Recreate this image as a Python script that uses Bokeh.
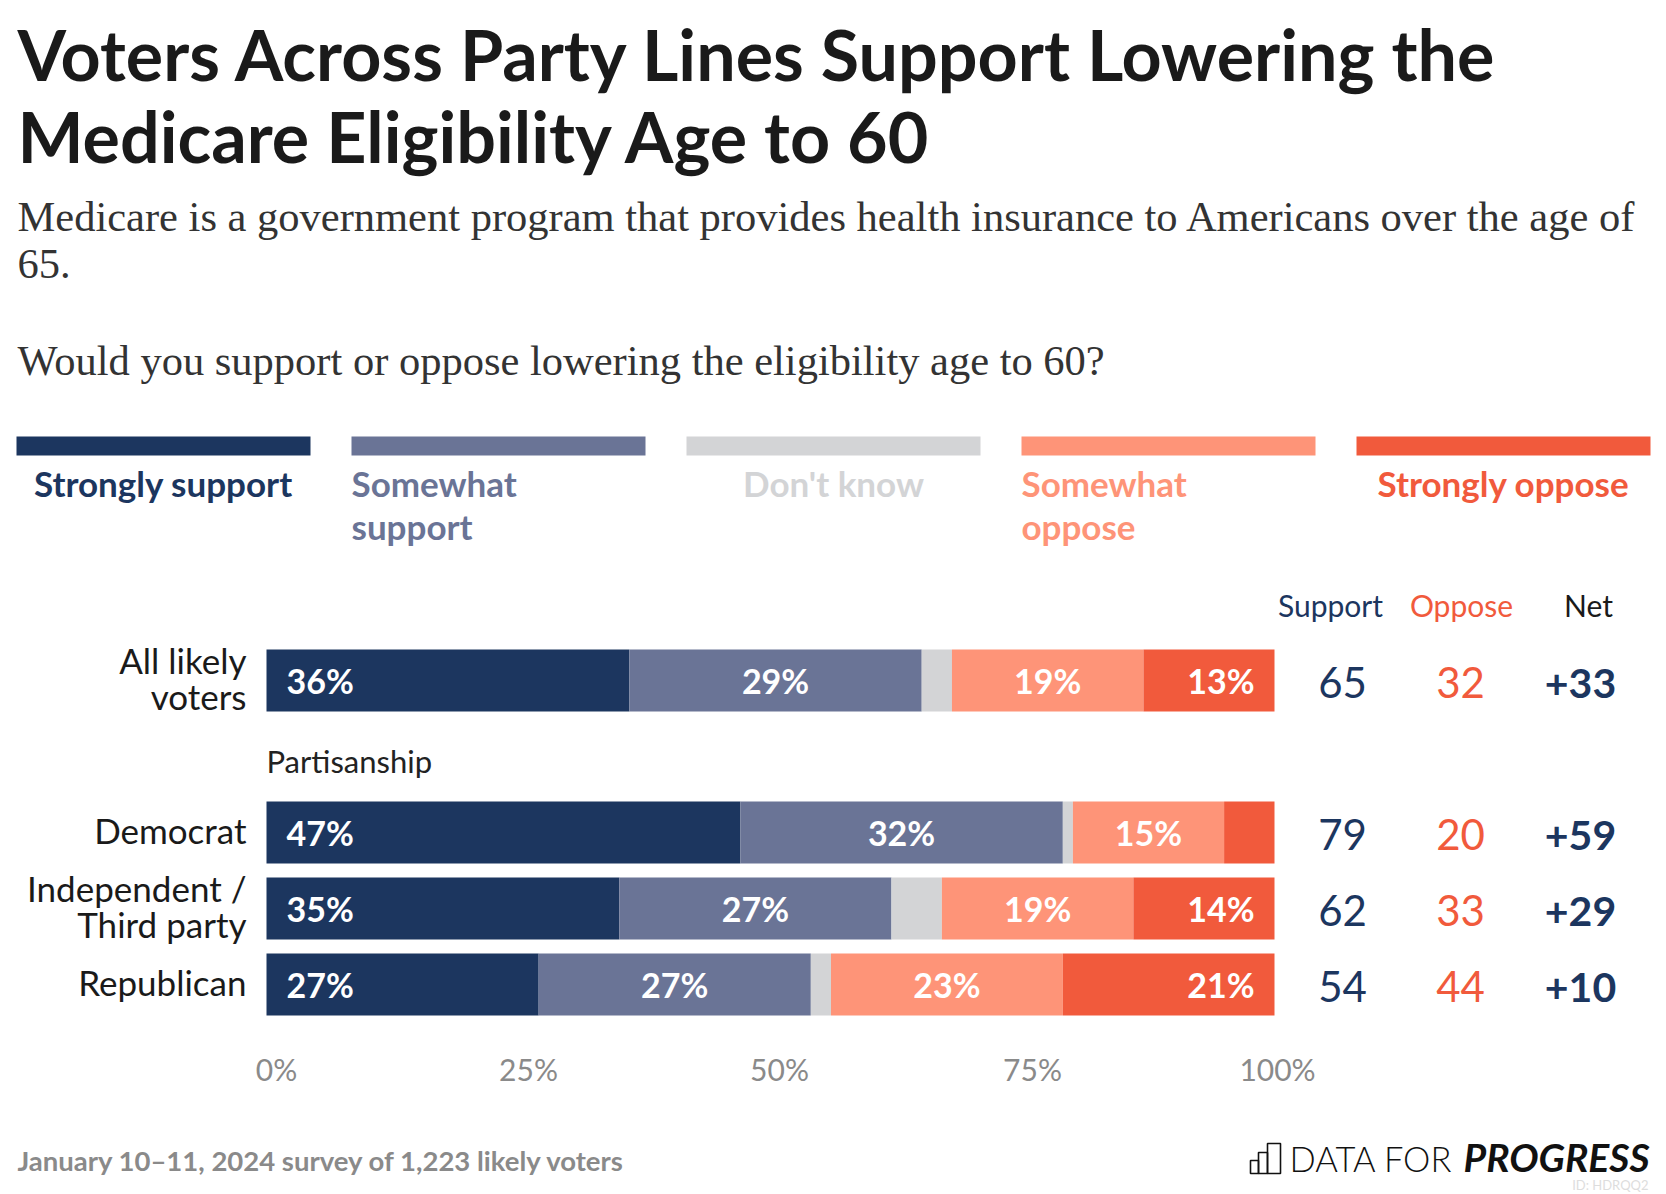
from bokeh.plotting import figure
from bokeh.layouts import column
from bokeh.models import ColumnDataSource, Range1d, FactorRange
from bokeh.core.properties import value
from bokeh.embed import file_html
from bokeh.resources import INLINE

# ---- data -------------------------------------------------------------
categories = ["Strongly support", "Somewhat support", "Don't know",
              "Somewhat oppose", "Strongly oppose"]
legend_lines = [["Strongly support"], ["Somewhat", "support"], ["Don't know"],
                ["Somewhat", "oppose"], ["Strongly oppose"]]
colors = ["#1c365f", "#6a7496", "#d3d4d6", "#fe9478", "#f15a3c"]

groups = ["All likely voters", "Democrat", "Independent / Third party", "Republican"]
group_lines = [["All likely", "voters"], ["Democrat"],
               ["Independent /", "Third party"], ["Republican"]]
section_label = "Partisanship"

strongly_support = [36, 47, 35, 27]
somewhat_support = [29, 32, 27, 27]
dont_know = [3, 1, 5, 2]
somewhat_oppose = [19, 15, 19, 23]
strongly_oppose = [13, 5, 14, 21]

support_total = [65, 79, 62, 54]
oppose_total = [32, 20, 33, 44]

tick_values = [0, 25, 50, 75, 100]
tick_labels = ["0%", "25%", "50%", "75%", "100%"]

title_lines = ["Voters Across Party Lines Support Lowering the",
               "Medicare Eligibility Age to 60"]
subtitle_lines = ["Medicare is a government program that provides health insurance to Americans over the age of",
                  "65.",
                  "Would you support or oppose lowering the eligibility age to 60?"]
source_note = "January 10\u201311, 2024 survey of 1,223 likely voters"

# ---- styling ----------------------------------------------------------
SANS = value("Lato")
SERIF = value("Liberation Serif")
INK = "#1a1a1a"
W = 1666
HEADER_H, MAIN_H, FOOTER_H = 567, 530, 97
ROW_PX = 76
BAR_LEFT_PX, BAR_RIGHT_PX = 266, 1274


def lift(size):
    """Shift that puts an alphabetic baseline where it is asked for."""
    return -0.4 * size


def bare(fig):
    fig.axis.visible = False
    fig.xgrid.visible = False
    fig.ygrid.visible = False
    fig.outline_line_color = None
    fig.background_fill_color = "white"
    fig.border_fill_color = "white"
    return fig


# ---- header: title, question, legend ---------------------------------
hdr = bare(figure(width=W, height=HEADER_H, x_range=Range1d(0, W),
                  y_range=Range1d(HEADER_H, 0), output_backend="svg",
                  toolbar_location=None, min_border=0))

fs = 70
hdr.text(x=[17, 17], y=[b + lift(fs) for b in (81, 163)], text=title_lines,
         text_font=SANS, text_font_style="bold", text_font_size=f"{fs}px",
         text_color=INK, text_baseline="alphabetic", text_align="left")
fs = 42.5
hdr.text(x=[17, 17, 17], y=[b + lift(fs) for b in (233, 280, 377)],
         text=subtitle_lines, text_font=SERIF, text_font_size=f"{fs}px",
         text_color="#333333", text_baseline="alphabetic", text_align="left")

slot, swatch_w, legend_x0 = 335, 294, 16
hdr.quad(left=[legend_x0 + i * slot for i in range(len(categories))],
         right=[legend_x0 + i * slot + swatch_w for i in range(len(categories))],
         top=436, bottom=455, fill_color=colors, line_color=None)
fs = 35
for i, lines in enumerate(legend_lines):
    left = legend_x0 + i * slot
    if len(lines) == 1:
        xs, align = [left + swatch_w / 2], "center"
    else:
        xs, align = [left] * len(lines), "left"
    hdr.text(x=xs, y=[496 + 43 * k + lift(fs) for k in range(len(lines))],
             text=lines, text_font=SANS, text_font_style="bold",
             text_font_size=f"{fs}px", text_color=colors[i],
             text_baseline="alphabetic", text_align=align)

# ---- main stacked bar chart ------------------------------------------
px_per_pct = (BAR_RIGHT_PX - BAR_LEFT_PX) / 100.0
x_range = Range1d(-BAR_LEFT_PX / px_per_pct, (W - BAR_LEFT_PX) / px_per_pct)
y_factors = [groups[3], groups[2], groups[1], section_label, groups[0]]
pad = (MAIN_H - ROW_PX * len(y_factors)) / (ROW_PX * len(y_factors))
y_range = FactorRange(factors=y_factors, range_padding=pad, range_padding_units="percent")

main = bare(figure(width=W, height=MAIN_H, x_range=x_range, y_range=y_range,
                   output_backend="svg", toolbar_location=None, min_border=0))

series = [strongly_support, somewhat_support, dont_know, somewhat_oppose, strongly_oppose]
src = ColumnDataSource({"group": groups, **{c: s for c, s in zip(categories, series)}})
main.hbar_stack(categories, y="group", height=62 / ROW_PX, color=colors,
                line_color=None, source=src)

# segment labels
lab = {"left": ([], [], []), "center": ([], [], []), "right": ([], [], [])}
for g, grp in enumerate(groups):
    cum = 0
    for c, s in enumerate(series):
        v = s[g]
        if c != 2 and v >= 10:
            if c == 0:
                key, x = "left", cum
            elif c == len(series) - 1:
                key, x = "right", cum + v
            else:
                key, x = "center", cum + v / 2
            lab[key][0].append(x)
            lab[key][1].append(grp)
            lab[key][2].append(f"{v}%")
        cum += v
offsets = {"left": 20, "center": 0, "right": -20}
fs = 34
for key, (xs, ys, ts) in lab.items():
    main.text(x=xs, y=ys, text=ts, x_offset=offsets[key], y_offset=14 + lift(fs),
              text_font=SANS, text_font_style="bold", text_font_size=f"{fs}px",
              text_color="white", text_align=key, text_baseline="alphabetic")

# row labels
fs = 35
for grp, lines in zip(groups, group_lines):
    n = len(lines)
    main.text(x=[0] * n, y=[grp] * n, text=lines, x_offset=-20,
              y_offset=[11 + (k - (n - 1) / 2) * 36 + lift(fs) for k in range(n)],
              text_font=SANS, text_font_size=f"{fs}px", text_color=INK,
              text_align="right", text_baseline="alphabetic")
fs = 31
main.text(x=[0], y=[section_label], text=[section_label], y_offset=17 + lift(fs),
          text_font=SANS, text_font_size=f"{fs}px", text_color="#222222",
          text_align="left", text_baseline="alphabetic")

# summary columns
net = [s - o for s, o in zip(support_total, oppose_total)]
fs = 30
main.text(x=[100] * 3, y=[groups[0]] * 3, text=["Support", "Oppose", "Net"],
          x_offset=[56, 187, 314], y_offset=-64 + lift(fs),
          text_color=[colors[0], colors[4], INK], text_font=SANS,
          text_font_size=f"{fs}px", text_align="center", text_baseline="alphabetic")
fs = 42
main.text(x=[100] * len(groups), y=groups, text=[str(v) for v in support_total],
          x_offset=68, y_offset=19 + lift(fs), text_color=colors[0], text_font=SANS,
          text_font_size=f"{fs}px", text_align="center", text_baseline="alphabetic")
main.text(x=[100] * len(groups), y=groups, text=[str(v) for v in oppose_total],
          x_offset=186, y_offset=19 + lift(fs), text_color=colors[4], text_font=SANS,
          text_font_size=f"{fs}px", text_align="center", text_baseline="alphabetic")
fs = 41
main.text(x=[100] * len(groups), y=groups, text=[f"{v:+d}" for v in net],
          x_offset=306, y_offset=19 + lift(fs), text_color=colors[0], text_font=SANS,
          text_font_style="bold", text_font_size=f"{fs}px", text_align="center",
          text_baseline="alphabetic")

# percentage scale
fs = 30
main.text(x=tick_values, y=[groups[3]] * len(tick_values), text=tick_labels,
          x_offset=[10, 10, 9, 10, 3], y_offset=96 + lift(fs), text_color="#8a8a8a",
          text_font=SANS, text_font_size=f"{fs}px", text_align="center",
          text_baseline="alphabetic")

# ---- footer ------------------------------------------------------------
top = HEADER_H + MAIN_H
ftr = bare(figure(width=W, height=FOOTER_H, x_range=Range1d(0, W),
                  y_range=Range1d(top + FOOTER_H, top), output_backend="svg",
                  toolbar_location=None, min_border=0))
fs = 27.5
ftr.text(x=[17], y=[1171 + lift(fs)], text=[source_note], text_font=SANS,
         text_font_style="bold", text_font_size=f"{fs}px", text_color="#8a8a8a",
         text_baseline="alphabetic", text_align="left")
# wordmark
ftr.quad(left=[1250, 1258, 1267], right=[1258, 1267, 1280],
         top=[1160, 1152, 1143], bottom=[1173, 1173, 1173],
         fill_alpha=0, line_color="#111111", line_width=1.6)
fs = 34.5
ftr.text(x=[1452], y=[1172 + lift(fs)], text=["DATA FOR"], text_font=value("Lato Light"),
         text_font_size=f"{fs}px", text_color="#111111", text_align="right",
         text_baseline="alphabetic")
fs = 39
ftr.text(x=[1649], y=[1172 + lift(fs)], text=["PROGRESS"], text_font=SANS,
         text_font_style="bold italic", text_font_size=f"{fs}px", text_color="#111111",
         text_align="right", text_baseline="alphabetic")
fs = 13
ftr.text(x=[1648], y=[1190 + lift(fs)], text=["ID: HDRQQ2"], text_font=SANS,
         text_font_size=f"{fs}px", text_color="#dddddd", text_align="right",
         text_baseline="alphabetic")

page = column(hdr, main, ftr, spacing=0)
open("out.html", "w").write(file_html(page, INLINE))
